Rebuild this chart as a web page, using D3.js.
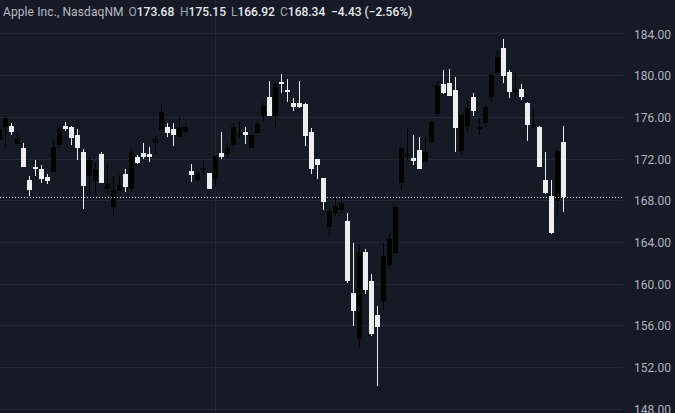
<!DOCTYPE html>
<html>
<head>
<meta charset="utf-8">
<script src="https://cdn.jsdelivr.net/npm/d3@7"></script>
<style>
  html, body { margin: 0; padding: 0; background: #161a25; overflow: hidden; }
  svg { display: block; }
</style>
</head>
<body>
<div id="chart"></div>
<script>
// ---- Data (index -1 is the partially visible first candle) ----
const candleIndex = d3.range(-1, 94);
const openValues = [
  173.83,175.10,175.17,173.47,173.06,169.99,171.26,171.04,170.27,170.78,
  173.37,175.20,175.07,174.30,172.70,170.37,169.89,172.48,169.09,167.42,
  168.93,170.56,169.15,172.19,172.58,172.48,173.57,174.78,175.07,174.91,
  174.11,174.62,170.85,169.99,170.95,170.63,170.08,172.58,172.48,173.34,
  174.30,174.59,173.06,174.50,176.13,177.95,176.13,179.39,178.65,177.37,
  177.37,177.28,174.59,172.00,170.18,165.47,166.85,167.14,166.08,159.17,
  154.75,163.10,160.32,157.06,158.40,161.83,163.01,169.73,172.32,172.10,
  172.87,171.74,173.63,176.32,179.20,179.29,178.62,172.80,175.20,177.95,
  174.91,175.49,177.98,180.28,182.65,180.35,178.46,178.72,177.37,175.10,
  175.07,169.99,168.45,168.00,173.68
];
const highValues = [
  175.00,176.16,175.43,174.52,173.57,170.37,171.91,171.43,170.56,173.73,
  175.10,175.55,175.17,174.88,172.96,172.22,171.74,172.70,171.52,170.30,
  170.47,171.04,172.96,172.39,173.54,173.15,174.21,177.28,175.46,175.46,
  176.03,175.46,171.52,170.85,171.91,170.69,172.32,174.59,173.54,175.46,
  175.65,175.07,174.30,175.55,177.37,179.49,179.29,180.16,179.68,177.85,
  179.49,177.40,174.98,172.00,170.18,167.39,168.26,168.64,166.85,163.97,
  163.78,163.39,161.00,157.92,163.94,164.80,167.59,173.18,174.88,174.30,
  174.11,174.02,175.65,179.49,180.54,180.64,179.87,176.22,177.76,178.33,
  175.94,177.18,180.06,182.46,183.52,180.54,180.25,179.20,177.47,176.80,
  175.17,172.67,169.99,173.15,175.15
];
const lowValues = [
  173.70,173.18,174.33,173.47,171.26,168.45,170.37,169.73,169.60,170.78,
  173.08,174.72,173.37,171.91,167.23,168.45,168.55,169.73,168.55,166.63,
  168.93,168.86,168.86,171.52,172.00,171.71,172.48,174.78,174.11,173.25,
  174.11,174.53,169.76,169.76,170.47,169.12,169.34,172.00,172.10,173.06,
  174.02,173.44,173.06,174.50,175.65,176.13,175.10,178.33,177.50,176.61,
  176.92,173.28,170.59,170.11,167.14,164.74,166.56,166.85,160.13,156.00,
  153.99,159.07,155.04,150.24,157.51,161.67,162.88,169.05,171.84,171.43,
  171.07,171.74,173.54,176.22,178.27,178.08,172.70,172.51,174.62,176.13,
  174.33,175.10,177.50,180.28,179.32,177.88,178.17,177.69,173.76,175.00,
  171.26,168.64,164.80,166.46,166.92
];
const closeValues = [
  174.85,175.94,174.62,174.02,171.26,169.03,171.04,170.11,169.89,173.15,
  174.98,174.88,174.05,173.08,169.41,171.91,171.04,169.73,169.70,169.00,
  169.51,169.31,172.67,171.62,172.19,172.19,173.92,176.51,174.53,174.30,
  175.07,175.07,170.47,170.69,171.14,169.12,172.32,172.19,173.06,175.07,
  174.43,174.30,174.30,175.36,177.18,176.13,179.20,179.20,178.46,177.02,
  177.02,174.24,171.07,171.43,167.90,167.04,167.52,167.81,160.32,157.44,
  163.10,159.46,155.24,155.91,162.69,164.33,167.40,173.08,172.48,171.81,
  171.07,172.67,175.55,179.01,178.36,178.08,175.00,176.22,176.90,176.61,
  175.07,176.99,180.06,181.79,180.00,178.46,178.72,177.95,175.29,175.26,
  171.26,168.74,164.93,172.77,168.34
];
const priceTicks = [148, 152, 156, 160, 164, 168, 172, 176, 180, 184];
const timeGridIndex = [35];
const symbolTitle = "Apple Inc., NasdaqNM";
const lastBar = { o: "173.68", h: "175.15", l: "166.92", c: "168.34", chg: "\u22124.43 (\u22122.56%)" };
const lastPrice = 168.34;

// ---- Layout ----
const W = 675, H = 413;
const plotRight = 623;
const bg = "#161a25", gridColor = "#242836", axisText = "#b2b5be";
const upColor = "#000000", downColor = "#eceef2";

const svg = d3.select("#chart").append("svg")
  .attr("width", W).attr("height", H);

svg.append("rect").attr("width", W).attr("height", H).attr("fill", bg);

const x = d3.scaleLinear().domain([-1, 93]).range([-0.5, 563.5]);
const y = d3.scaleLinear().domain([148, 184]).range([409.1, 33.98]);
const crisp = v => Math.floor(v) + 0.5;

// grid
const grid = svg.append("g");
grid.selectAll("line.h").data(priceTicks).join("line")
  .attr("x1", 0).attr("x2", plotRight)
  .attr("y1", d => crisp(y(d))).attr("y2", d => crisp(y(d)))
  .attr("stroke", gridColor).attr("stroke-width", 1);
grid.selectAll("line.v").data(timeGridIndex).join("line")
  .attr("x1", d => x(d)).attr("x2", d => x(d))
  .attr("y1", 0).attr("y2", H)
  .attr("stroke", gridColor).attr("stroke-width", 1);

// y axis (right)
const yAxis = d3.axisRight(y).tickValues(priceTicks)
  .tickFormat(d => d.toFixed(2)).tickSize(0).tickPadding(0);
const ag = svg.append("g").attr("transform", `translate(${634},0)`).call(yAxis);
ag.select(".domain").remove();
ag.selectAll("text")
  .attr("fill", axisText)
  .attr("font-family", "Roboto, 'Noto Sans', sans-serif")
  .attr("font-size", 12)
  .attr("dy", "0.35em");

// candles
const data = candleIndex.map((k, i) => ({
  k, o: openValues[i], h: highValues[i], l: lowValues[i], c: closeValues[i]
}));
const cg = svg.append("g");
const bodyW = 5;
cg.selectAll("rect.wick").data(data).join("rect")
  .attr("x", d => x(d.k) - 0.5)
  .attr("width", 1)
  .attr("y", d => Math.round(y(d.h)))
  .attr("height", d => Math.max(1, Math.round(y(d.l)) - Math.round(y(d.h))))
  .attr("fill", d => d.c >= d.o ? upColor : downColor);
cg.selectAll("rect.body").data(data).join("rect")
  .attr("x", d => x(d.k) - bodyW / 2)
  .attr("width", bodyW)
  .attr("y", d => Math.round(y(Math.max(d.o, d.c))))
  .attr("height", d => Math.max(1, Math.round(y(Math.min(d.o, d.c))) - Math.round(y(Math.max(d.o, d.c)))))
  .attr("fill", d => d.c >= d.o ? upColor : downColor);

// last price dotted line
svg.append("line")
  .attr("x1", 0).attr("x2", plotRight)
  .attr("y1", crisp(y(lastPrice))).attr("y2", crisp(y(lastPrice)))
  .attr("stroke", "#d8dbe2").attr("stroke-width", 1)
  .attr("stroke-dasharray", "1,2");

// header legend
const hf = "Roboto, 'Noto Sans', sans-serif";
const header = svg.append("text")
  .attr("y", 16).attr("font-family", hf).attr("font-size", 12);
header.append("tspan").attr("x", 3).attr("fill", "#b8bbc4")
  .attr("letter-spacing", 0.1).text(symbolTitle);
const parts = [["O", lastBar.o, 128.5], ["H", lastBar.h, 180], ["L", lastBar.l, 231], ["C", lastBar.c, 280]];
parts.forEach(([lab, val, px]) => {
  header.append("tspan").attr("x", px).attr("fill", "#a3a6af").text(lab);
  header.append("tspan").attr("fill", "#e6e8ee").attr("font-weight", 500).text(val);
});
header.append("tspan").attr("x", 331).attr("fill", "#e6e8ee").attr("font-weight", 500).text(lastBar.chg);
</script>
</body>
</html>
